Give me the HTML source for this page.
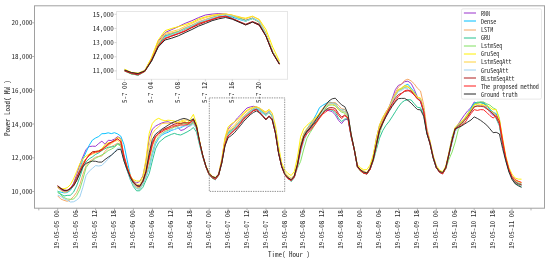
<!DOCTYPE html><html><head><meta charset="utf-8"><title>Power load forecast</title><style>
html,body{margin:0;padding:0;background:#fff;overflow:hidden}svg{display:block}
text{font-family:"Noto Sans Mono CJK SC","IPAGothic","Liberation Mono",monospace;fill:#2c2c2c}
</style></head><body>
<svg width="550" height="261" viewBox="0 0 550 261">
<rect width="550" height="261" fill="#fff"/>
<defs><clipPath id="cm"><rect x="34.5" y="5.8" width="510" height="202.4"/></clipPath><clipPath id="ci"><rect x="116.5" y="11.5" width="171" height="67.8"/></clipPath></defs>
<g fill="none" stroke-linejoin="round" stroke-width="0.95" clip-path="url(#cm)">
<polyline points="57.7,187.3 60.9,189.9 64.0,191.2 67.2,191.4 70.3,188.9 73.5,183.4 76.6,174.8 79.8,164.7 82.9,156.8 86.1,149.4 89.2,146.6 92.4,146.2 95.6,146.3 98.7,143.5 101.9,141.2 105.0,144.2 108.2,140.3 111.3,140.5 114.5,139.1 117.6,136.6 120.8,138.5 124.0,155.3 127.1,166.6 130.3,177.2 133.4,181.3 136.6,182.8 139.7,181.6 142.9,175.8 146.0,161.5 149.2,138.1 152.3,129.2 155.5,126.2 158.7,124.4 161.8,123.0 165.0,122.0 168.1,121.7 171.3,123.0 174.4,124.9 177.6,126.9 180.7,130.5 183.9,129.6 187.1,127.3 190.2,125.5 193.4,121.6 196.5,128.1 199.7,143.5 202.8,156.8 206.0,167.1 209.1,174.3 212.3,177.5 215.4,177.7 218.6,174.0 221.8,160.0 224.9,139.5 228.1,128.9 231.2,125.3 234.4,121.9 237.5,117.9 240.7,114.8 243.8,111.1 247.0,108.0 250.2,107.0 253.3,106.3 256.5,107.0 259.6,108.5 262.8,111.7 265.9,114.3 269.1,111.7 272.2,116.3 275.4,130.2 278.6,152.5 281.7,166.0 284.9,174.3 288.0,177.9 291.2,180.4 294.3,176.4 297.5,164.2 300.6,146.9 303.8,135.5 306.9,129.6 310.1,126.0 313.3,121.7 316.4,118.6 319.6,116.3 322.7,113.1 325.9,110.3 329.0,110.6 332.2,111.6 335.3,114.9 338.5,120.3 341.6,123.6 344.8,119.7 348.0,119.3 351.1,136.8 354.3,149.5 357.4,166.8 360.6,170.1 363.7,171.9 366.9,173.1 370.0,168.0 373.2,156.7 376.4,138.3 379.5,125.3 382.7,118.3 385.8,112.3 389.0,107.2 392.1,99.0 395.3,89.7 398.4,85.4 401.6,84.1 404.7,81.7 407.9,81.2 411.1,83.4 414.2,89.3 417.4,97.0 420.5,101.7 423.7,111.4 426.8,129.9 430.0,142.5 433.1,156.3 436.3,166.6 439.5,171.4 442.6,172.7 445.8,167.3 448.9,153.0 452.1,137.7 455.2,129.0 458.4,124.0 461.5,119.1 464.7,114.6 467.8,110.7 471.0,107.5 474.2,102.0 477.3,103.3 480.5,102.2 483.6,102.4 486.8,107.9 489.9,112.3 493.1,115.4 496.2,114.1 499.4,122.4 502.6,144.2 505.7,157.9 508.9,169.7 512.0,177.7 515.2,182.2 518.3,183.5 521.5,184.2" stroke="#9932CC"/>
<polyline points="57.7,191.5 60.9,192.1 64.0,192.9 67.2,192.6 70.3,190.4 73.5,185.4 76.6,179.5 79.8,169.3 82.9,159.0 86.1,152.0 89.2,145.3 92.4,140.1 95.6,138.0 98.7,136.5 101.9,133.7 105.0,133.6 108.2,132.8 111.3,133.6 114.5,132.7 117.6,133.9 120.8,136.2 124.0,144.5 127.1,159.8 130.3,175.4 133.4,181.5 136.6,185.3 139.7,187.8 142.9,183.7 146.0,177.1 149.2,167.9 152.3,154.8 155.5,144.0 158.7,138.7 161.8,135.2 165.0,133.4 168.1,132.3 171.3,130.5 174.4,129.4 177.6,128.3 180.7,127.7 183.9,126.1 187.1,125.1 190.2,124.6 193.4,120.4 196.5,128.0 199.7,143.1 202.8,155.9 206.0,166.5 209.1,174.4 212.3,177.8 215.4,179.7 218.6,175.1 221.8,162.5 224.9,143.5 228.1,132.8 231.2,130.3 234.4,128.2 237.5,123.9 240.7,121.0 243.8,116.8 247.0,114.6 250.2,111.3 253.3,109.7 256.5,109.0 259.6,110.5 262.8,113.2 265.9,115.4 269.1,111.7 272.2,115.9 275.4,130.2 278.6,152.5 281.7,166.3 284.9,174.3 288.0,178.3 291.2,180.2 294.3,177.4 297.5,163.2 300.6,144.9 303.8,133.8 306.9,128.9 310.1,124.2 313.3,119.9 316.4,114.2 319.6,107.5 322.7,105.3 325.9,103.5 329.0,101.9 332.2,102.8 335.3,103.4 338.5,108.0 341.6,110.1 344.8,109.4 348.0,115.3 351.1,134.5 354.3,149.4 357.4,166.3 360.6,170.4 363.7,172.6 366.9,174.0 370.0,169.3 373.2,158.6 376.4,141.4 379.5,127.6 382.7,120.9 385.8,114.9 389.0,109.2 392.1,100.0 395.3,94.8 398.4,89.9 401.6,88.5 404.7,85.7 407.9,84.2 411.1,88.1 414.2,91.9 417.4,97.1 420.5,101.6 423.7,112.5 426.8,132.8 430.0,142.7 433.1,157.8 436.3,167.6 439.5,172.3 442.6,173.8 445.8,168.6 448.9,154.2 452.1,137.3 455.2,127.9 458.4,125.4 461.5,121.7 464.7,119.0 467.8,113.6 471.0,108.2 474.2,103.1 477.3,102.3 480.5,102.4 483.6,103.2 486.8,104.9 489.9,109.7 493.1,112.3 496.2,113.6 499.4,123.8 502.6,142.8 505.7,158.4 508.9,170.5 512.0,177.7 515.2,181.9 518.3,183.4 521.5,185.2" stroke="#00BFFF"/>
<polyline points="57.7,195.9 60.9,199.1 64.0,200.3 67.2,201.3 70.3,199.7 73.5,196.6 76.6,192.3 79.8,184.7 82.9,174.3 86.1,165.6 89.2,161.6 92.4,159.4 95.6,157.2 98.7,156.4 101.9,156.0 105.0,151.4 108.2,148.1 111.3,146.6 114.5,144.9 117.6,143.2 120.8,144.5 124.0,158.5 127.1,169.4 130.3,178.0 133.4,184.0 136.6,187.3 139.7,187.8 142.9,183.6 146.0,174.9 149.2,160.1 152.3,146.4 155.5,138.0 158.7,134.7 161.8,131.7 165.0,129.0 168.1,128.1 171.3,125.9 174.4,125.4 177.6,124.7 180.7,123.9 183.9,122.1 187.1,122.9 190.2,123.9 193.4,121.3 196.5,127.0 199.7,142.7 202.8,156.2 206.0,166.6 209.1,174.7 212.3,177.7 215.4,179.5 218.6,175.2 221.8,161.8 224.9,143.0 228.1,131.4 231.2,129.4 234.4,127.3 237.5,123.1 240.7,120.0 243.8,116.0 247.0,113.3 250.2,110.5 253.3,108.7 256.5,107.4 259.6,109.0 262.8,111.3 265.9,114.6 269.1,111.9 272.2,116.8 275.4,131.3 278.6,151.8 281.7,165.5 284.9,173.9 288.0,177.6 291.2,180.6 294.3,176.7 297.5,164.8 300.6,147.2 303.8,135.9 306.9,130.5 310.1,126.9 313.3,121.2 316.4,118.0 319.6,113.1 322.7,108.6 325.9,104.7 329.0,102.6 332.2,102.8 335.3,102.6 338.5,105.3 341.6,108.8 344.8,109.3 348.0,115.4 351.1,134.5 354.3,149.5 357.4,166.6 360.6,170.8 363.7,172.2 366.9,173.9 370.0,169.3 373.2,160.4 376.4,144.7 379.5,128.8 382.7,121.4 385.8,114.7 389.0,108.7 392.1,100.3 395.3,92.9 398.4,87.1 401.6,84.0 404.7,80.4 407.9,79.2 411.1,80.9 414.2,83.8 417.4,88.2 420.5,91.0 423.7,104.8 426.8,127.7 430.0,141.4 433.1,156.1 436.3,166.9 439.5,171.7 442.6,173.8 445.8,168.6 448.9,154.6 452.1,139.8 455.2,128.6 458.4,125.9 461.5,123.2 464.7,120.3 467.8,115.5 471.0,111.8 474.2,107.1 477.3,105.9 480.5,105.4 483.6,106.2 486.8,107.9 489.9,111.5 493.1,111.8 496.2,115.3 499.4,124.2 502.6,142.8 505.7,158.7 508.9,170.8 512.0,177.7 515.2,183.4 518.3,184.3 521.5,185.1" stroke="#F4A460"/>
<polyline points="57.7,192.6 60.9,194.1 64.0,196.0 67.2,195.4 70.3,195.3 73.5,192.2 76.6,185.9 79.8,177.5 82.9,167.7 86.1,161.7 89.2,158.9 92.4,156.9 95.6,154.4 98.7,152.9 101.9,150.5 105.0,148.7 108.2,147.2 111.3,147.0 114.5,146.4 117.6,144.0 120.8,144.5 124.0,159.4 127.1,169.9 130.3,179.6 133.4,186.6 136.6,190.8 139.7,190.8 142.9,187.3 146.0,180.2 149.2,173.6 152.3,161.0 155.5,148.8 158.7,142.6 161.8,140.0 165.0,137.3 168.1,135.8 171.3,134.4 174.4,133.4 177.6,134.5 180.7,135.0 183.9,133.5 187.1,131.9 190.2,130.1 193.4,127.5 196.5,132.1 199.7,145.5 202.8,156.9 206.0,167.0 209.1,174.7 212.3,178.2 215.4,179.5 218.6,175.0 221.8,162.0 224.9,144.1 228.1,133.6 231.2,131.9 234.4,128.4 237.5,124.8 240.7,121.7 243.8,117.3 247.0,114.5 250.2,111.6 253.3,109.6 256.5,107.6 259.6,109.5 262.8,112.1 265.9,114.7 269.1,112.2 272.2,116.1 275.4,130.7 278.6,151.9 281.7,166.2 284.9,174.0 288.0,178.2 291.2,181.5 294.3,177.7 297.5,165.5 300.6,148.8 303.8,137.0 306.9,131.9 310.1,128.0 313.3,123.1 316.4,120.9 319.6,116.3 322.7,113.3 325.9,109.7 329.0,109.1 332.2,110.3 335.3,112.5 338.5,118.2 341.6,121.5 344.8,119.0 348.0,118.6 351.1,136.6 354.3,148.8 357.4,166.3 360.6,170.8 363.7,172.7 366.9,173.8 370.0,169.2 373.2,161.4 376.4,149.5 379.5,138.2 382.7,130.7 385.8,125.5 389.0,121.6 392.1,116.9 395.3,111.8 398.4,106.9 401.6,102.7 404.7,100.5 407.9,99.7 411.1,99.9 414.2,103.6 417.4,107.3 420.5,107.8 423.7,114.8 426.8,133.6 430.0,143.3 433.1,158.0 436.3,168.1 439.5,171.7 442.6,173.0 445.8,168.2 448.9,154.8 452.1,140.1 455.2,128.4 458.4,126.0 461.5,122.2 464.7,118.5 467.8,114.3 471.0,109.8 474.2,104.1 477.3,102.8 480.5,102.7 483.6,103.5 486.8,105.9 489.9,109.4 493.1,112.5 496.2,118.7 499.4,125.9 502.6,144.1 505.7,160.1 508.9,170.9 512.0,178.2 515.2,183.4 518.3,184.9 521.5,186.9" stroke="#26C28E"/>
<polyline points="57.7,190.7 60.9,195.1 64.0,197.6 67.2,199.0 70.3,199.3 73.5,199.1 76.6,195.7 79.8,189.4 82.9,179.1 86.1,167.5 89.2,163.3 92.4,160.5 95.6,158.2 98.7,156.6 101.9,154.9 105.0,153.2 108.2,150.5 111.3,149.2 114.5,147.4 117.6,144.2 120.8,146.3 124.0,160.6 127.1,169.4 130.3,178.7 133.4,185.3 136.6,188.3 139.7,189.2 142.9,184.4 146.0,176.5 149.2,165.9 152.3,152.1 155.5,141.7 158.7,136.7 161.8,133.6 165.0,131.4 168.1,130.4 171.3,128.7 174.4,127.2 177.6,126.6 180.7,124.6 183.9,123.4 187.1,123.7 190.2,125.3 193.4,122.6 196.5,128.8 199.7,143.7 202.8,155.6 206.0,167.3 209.1,174.2 212.3,178.3 215.4,179.6 218.6,175.5 221.8,163.2 224.9,146.3 228.1,134.4 231.2,130.5 234.4,127.8 237.5,124.4 240.7,120.6 243.8,117.1 247.0,114.6 250.2,111.3 253.3,108.7 256.5,107.8 259.6,109.4 262.8,111.8 265.9,115.3 269.1,112.4 272.2,116.2 275.4,130.5 278.6,152.7 281.7,165.4 284.9,173.9 288.0,177.9 291.2,180.5 294.3,176.8 297.5,168.0 300.6,161.4 303.8,149.0 306.9,138.4 310.1,132.6 313.3,127.6 316.4,122.0 319.6,117.5 322.7,112.8 325.9,107.9 329.0,105.2 332.2,104.9 335.3,105.8 338.5,109.7 341.6,112.1 344.8,113.2 348.0,116.9 351.1,135.5 354.3,150.1 357.4,167.3 360.6,171.3 363.7,173.2 366.9,173.6 370.0,169.5 373.2,160.0 376.4,147.6 379.5,133.9 382.7,123.7 385.8,116.3 389.0,109.1 392.1,102.3 395.3,96.3 398.4,90.5 401.6,89.3 404.7,87.4 407.9,86.9 411.1,90.1 414.2,93.4 417.4,97.9 420.5,99.3 423.7,109.4 426.8,131.0 430.0,142.4 433.1,156.3 436.3,166.9 439.5,171.9 442.6,173.1 445.8,168.9 448.9,159.4 452.1,152.0 455.2,142.1 458.4,129.2 461.5,125.6 464.7,120.2 467.8,115.7 471.0,110.9 474.2,104.4 477.3,102.4 480.5,101.9 483.6,102.0 486.8,103.8 489.9,105.1 493.1,107.9 496.2,109.5 499.4,118.5 502.6,140.8 505.7,158.1 508.9,169.8 512.0,177.8 515.2,181.3 518.3,182.7 521.5,184.2" stroke="#80E060"/>
<polyline points="57.7,187.1 60.9,188.4 64.0,188.8 67.2,187.7 70.3,184.8 73.5,179.0 76.6,171.6 79.8,163.7 82.9,158.8 86.1,156.0 89.2,154.0 92.4,152.1 95.6,151.6 98.7,150.8 101.9,148.5 105.0,144.6 108.2,142.8 111.3,142.5 114.5,140.2 117.6,137.4 120.8,139.1 124.0,156.7 127.1,166.3 130.3,176.4 133.4,179.6 136.6,181.0 139.7,181.1 142.9,176.5 146.0,159.1 149.2,133.4 152.3,123.5 155.5,119.8 158.7,118.3 161.8,119.9 165.0,120.8 168.1,120.2 171.3,120.5 174.4,121.1 177.6,122.7 180.7,122.2 183.9,120.9 187.1,123.0 190.2,119.5 193.4,114.4 196.5,123.8 199.7,141.4 202.8,155.4 206.0,165.9 209.1,172.6 212.3,176.3 215.4,177.4 218.6,174.1 221.8,158.8 224.9,138.0 228.1,126.8 231.2,123.9 234.4,121.9 237.5,119.5 240.7,116.8 243.8,112.6 247.0,110.2 250.2,108.3 253.3,107.2 256.5,106.9 259.6,108.0 262.8,111.0 265.9,111.7 269.1,109.4 272.2,113.2 275.4,125.1 278.6,146.1 281.7,162.8 284.9,170.3 288.0,173.5 291.2,175.5 294.3,171.4 297.5,156.8 300.6,136.7 303.8,128.7 306.9,125.3 310.1,122.5 313.3,119.4 316.4,116.9 319.6,113.2 322.7,109.5 325.9,106.0 329.0,104.2 332.2,103.7 335.3,105.6 338.5,109.5 341.6,110.8 344.8,111.9 348.0,116.5 351.1,134.4 354.3,149.1 357.4,164.9 360.6,167.8 363.7,169.8 366.9,169.5 370.0,165.2 373.2,154.8 376.4,138.4 379.5,125.0 382.7,117.4 385.8,112.3 389.0,107.4 392.1,100.4 395.3,94.7 398.4,89.8 401.6,87.7 404.7,85.5 407.9,86.4 411.1,89.5 414.2,92.7 417.4,97.5 420.5,98.2 423.7,108.5 426.8,130.4 430.0,141.0 433.1,155.2 436.3,165.6 439.5,170.0 442.6,171.9 445.8,165.9 448.9,152.7 452.1,137.4 455.2,127.2 458.4,124.1 461.5,121.3 464.7,118.1 467.8,113.5 471.0,109.6 474.2,105.0 477.3,104.2 480.5,104.2 483.6,104.9 486.8,105.7 489.9,107.4 493.1,109.7 496.2,109.7 499.4,119.3 502.6,138.0 505.7,155.3 508.9,167.5 512.0,174.1 515.2,178.1 518.3,179.1 521.5,179.2" stroke="#FFF000"/>
<polyline points="57.7,187.2 60.9,190.4 64.0,192.3 67.2,191.9 70.3,189.3 73.5,184.5 76.6,177.5 79.8,169.2 82.9,162.2 86.1,158.6 89.2,155.7 92.4,154.1 95.6,152.8 98.7,151.1 101.9,150.3 105.0,147.5 108.2,145.6 111.3,143.8 114.5,141.3 117.6,140.5 120.8,142.9 124.0,158.3 127.1,167.3 130.3,175.1 133.4,181.1 136.6,184.1 139.7,184.7 142.9,178.7 146.0,166.6 149.2,145.4 152.3,133.6 155.5,129.3 158.7,126.8 161.8,123.6 165.0,123.2 168.1,123.3 171.3,122.7 174.4,122.6 177.6,122.4 180.7,121.0 183.9,119.9 187.1,120.2 190.2,121.3 193.4,118.7 196.5,126.6 199.7,141.8 202.8,156.1 206.0,167.0 209.1,174.6 212.3,176.8 215.4,178.9 218.6,175.1 221.8,161.4 224.9,141.4 228.1,129.9 231.2,127.7 234.4,125.5 237.5,121.4 240.7,117.9 243.8,114.1 247.0,111.1 250.2,109.0 253.3,107.8 256.5,106.7 259.6,108.4 262.8,109.9 265.9,112.7 269.1,109.6 272.2,113.6 275.4,129.0 278.6,151.3 281.7,164.5 284.9,172.4 288.0,176.0 291.2,178.2 294.3,175.1 297.5,161.6 300.6,143.5 303.8,133.2 306.9,128.4 310.1,125.4 313.3,121.3 316.4,117.9 319.6,114.8 322.7,110.2 325.9,106.4 329.0,104.4 332.2,103.6 335.3,104.1 338.5,108.0 341.6,110.8 344.8,111.5 348.0,116.0 351.1,134.1 354.3,149.3 357.4,165.5 360.6,169.5 363.7,170.9 366.9,172.5 370.0,167.7 373.2,157.7 376.4,142.3 379.5,128.2 382.7,120.4 385.8,113.2 389.0,107.0 392.1,101.4 395.3,95.1 398.4,89.8 401.6,88.5 404.7,86.2 407.9,86.7 411.1,89.5 414.2,93.8 417.4,97.0 420.5,98.2 423.7,109.0 426.8,131.3 430.0,142.0 433.1,156.7 436.3,166.1 439.5,171.3 442.6,172.8 445.8,167.3 448.9,153.8 452.1,140.3 455.2,129.1 458.4,126.2 461.5,122.5 464.7,119.3 467.8,114.8 471.0,111.1 474.2,106.8 477.3,106.3 480.5,106.1 483.6,106.9 486.8,108.6 489.9,111.4 493.1,112.6 496.2,115.8 499.4,123.7 502.6,142.3 505.7,157.3 508.9,169.3 512.0,176.5 515.2,180.7 518.3,181.4 521.5,182.8" stroke="#FFD23C"/>
<polyline points="57.7,195.1 60.9,196.5 64.0,198.7 67.2,200.1 70.3,202.0 73.5,201.8 76.6,200.2 79.8,197.0 82.9,187.2 86.1,175.3 89.2,171.2 92.4,168.4 95.6,165.6 98.7,166.0 101.9,165.4 105.0,162.2 108.2,159.1 111.3,155.3 114.5,151.9 117.6,148.3 120.8,147.9 124.0,160.7 127.1,170.3 130.3,179.3 133.4,185.0 136.6,188.7 139.7,189.3 142.9,184.1 146.0,176.8 149.2,167.8 152.3,154.6 155.5,142.9 158.7,138.3 161.8,134.5 165.0,132.3 168.1,131.2 171.3,129.6 174.4,129.5 177.6,128.1 180.7,127.0 183.9,125.5 187.1,125.9 190.2,126.1 193.4,124.2 196.5,129.3 199.7,144.1 202.8,155.5 206.0,167.3 209.1,174.4 212.3,177.7 215.4,179.6 218.6,175.1 221.8,163.4 224.9,145.9 228.1,134.3 231.2,131.6 234.4,128.7 237.5,124.1 240.7,121.0 243.8,116.6 247.0,114.2 250.2,111.6 253.3,109.2 256.5,108.1 259.6,109.2 262.8,112.6 265.9,115.3 269.1,112.2 272.2,115.6 275.4,130.8 278.6,151.8 281.7,165.9 284.9,174.3 288.0,178.7 291.2,180.9 294.3,177.3 297.5,167.3 300.6,153.0 303.8,141.5 306.9,133.9 310.1,129.9 313.3,125.0 316.4,120.5 319.6,115.5 322.7,111.0 325.9,106.3 329.0,104.0 332.2,103.3 335.3,104.5 338.5,108.5 341.6,110.7 344.8,111.5 348.0,115.9 351.1,134.6 354.3,149.3 357.4,166.7 360.6,171.0 363.7,172.6 366.9,173.6 370.0,169.4 373.2,160.4 376.4,147.0 379.5,131.7 382.7,123.0 385.8,116.0 389.0,109.0 392.1,102.3 395.3,96.0 398.4,91.6 401.6,90.5 404.7,88.2 407.9,88.4 411.1,91.7 414.2,94.9 417.4,98.5 420.5,99.6 423.7,109.8 426.8,130.9 430.0,142.7 433.1,156.6 436.3,166.9 439.5,172.1 442.6,173.1 445.8,168.4 448.9,155.7 452.1,143.6 455.2,131.9 458.4,126.3 461.5,124.0 464.7,119.9 467.8,116.8 471.0,112.3 474.2,106.3 477.3,105.5 480.5,106.1 483.6,107.0 486.8,108.7 489.9,111.7 493.1,113.6 496.2,118.0 499.4,125.0 502.6,143.3 505.7,158.7 508.9,170.4 512.0,177.6 515.2,182.1 518.3,183.4 521.5,185.3" stroke="#9ACFF0"/>
<polyline points="57.7,185.8 60.9,188.2 64.0,190.4 67.2,190.6 70.3,188.3 73.5,184.3 76.6,177.6 79.8,170.6 82.9,164.4 86.1,159.0 89.2,154.9 92.4,151.7 95.6,151.4 98.7,151.0 101.9,149.3 105.0,146.6 108.2,143.7 111.3,142.1 114.5,140.4 117.6,138.8 120.8,141.5 124.0,157.5 127.1,167.8 130.3,176.3 133.4,181.8 136.6,185.3 139.7,186.4 142.9,181.2 146.0,171.6 149.2,156.0 152.3,142.7 155.5,136.3 158.7,133.1 161.8,130.4 165.0,128.6 168.1,127.4 171.3,125.7 174.4,124.1 177.6,123.3 180.7,123.5 183.9,122.7 187.1,122.9 190.2,122.5 193.4,119.6 196.5,126.7 199.7,142.4 202.8,156.0 206.0,167.2 209.1,174.6 212.3,177.7 215.4,179.4 218.6,175.1 221.8,162.0 224.9,144.7 228.1,136.0 231.2,133.2 234.4,130.3 237.5,127.3 240.7,123.1 243.8,119.4 247.0,116.4 250.2,113.4 253.3,110.7 256.5,109.3 259.6,112.0 262.8,115.6 265.9,119.0 269.1,115.8 272.2,118.9 275.4,133.0 278.6,153.1 281.7,166.9 284.9,175.2 288.0,178.1 291.2,180.6 294.3,176.7 297.5,165.1 300.6,147.8 303.8,136.8 306.9,132.3 310.1,128.8 313.3,124.8 316.4,121.4 319.6,117.2 322.7,113.4 325.9,109.5 329.0,107.8 332.2,107.5 335.3,108.5 338.5,113.5 341.6,117.1 344.8,115.0 348.0,118.1 351.1,135.4 354.3,150.2 357.4,167.3 360.6,170.8 363.7,173.1 366.9,174.2 370.0,169.5 373.2,159.8 376.4,144.4 379.5,130.1 382.7,122.2 385.8,115.6 389.0,109.0 392.1,103.7 395.3,98.3 398.4,94.6 401.6,93.2 404.7,91.4 407.9,90.8 411.1,90.8 414.2,95.0 417.4,98.8 420.5,101.1 423.7,111.3 426.8,132.7 430.0,142.9 433.1,157.1 436.3,167.6 439.5,172.4 442.6,173.7 445.8,168.1 448.9,154.8 452.1,140.5 455.2,128.8 458.4,126.1 461.5,123.5 464.7,120.0 467.8,116.4 471.0,111.5 474.2,106.8 477.3,106.0 480.5,106.3 483.6,106.3 486.8,108.9 489.9,111.0 493.1,114.0 496.2,117.5 499.4,124.0 502.6,142.9 505.7,158.6 508.9,169.7 512.0,177.7 515.2,181.9 518.3,183.8 521.5,184.9" stroke="#B01E1E"/>
<polyline points="57.7,185.8 60.9,188.9 64.0,190.2 67.2,190.4 70.3,188.2 73.5,186.0 76.6,180.6 79.8,172.4 82.9,165.9 86.1,159.2 89.2,155.4 92.4,153.1 95.6,152.1 98.7,151.8 101.9,150.2 105.0,147.4 108.2,144.6 111.3,142.5 114.5,140.9 117.6,138.8 120.8,141.5 124.0,156.6 127.1,167.6 130.3,176.1 133.4,182.1 136.6,185.9 139.7,186.2 142.9,181.4 146.0,172.2 149.2,157.9 152.3,144.7 155.5,136.8 158.7,133.5 161.8,131.8 165.0,129.9 168.1,128.9 171.3,127.3 174.4,126.4 177.6,125.3 180.7,125.0 183.9,125.0 187.1,124.7 190.2,122.5 193.4,119.5 196.5,127.1 199.7,142.5 202.8,155.6 206.0,166.5 209.1,174.0 212.3,176.8 215.4,178.3 218.6,175.2 221.8,162.7 224.9,145.4 228.1,135.9 231.2,133.1 234.4,130.0 237.5,126.6 240.7,122.7 243.8,118.2 247.0,115.7 250.2,113.1 253.3,110.6 256.5,109.7 259.6,112.5 262.8,116.1 265.9,119.8 269.1,116.4 272.2,120.2 275.4,133.1 278.6,153.4 281.7,166.5 284.9,174.7 288.0,178.8 291.2,180.1 294.3,177.3 297.5,165.2 300.6,150.1 303.8,138.7 306.9,133.8 310.1,130.6 313.3,126.7 316.4,122.8 319.6,118.1 322.7,114.2 325.9,111.8 329.0,109.5 332.2,109.2 335.3,110.6 338.5,115.4 341.6,118.6 344.8,115.6 348.0,118.4 351.1,135.8 354.3,149.7 357.4,166.1 360.6,170.9 363.7,173.1 366.9,173.3 370.0,169.5 373.2,160.0 376.4,145.2 379.5,130.4 382.7,123.2 385.8,116.3 389.0,110.0 392.1,105.5 395.3,100.9 398.4,96.3 401.6,93.7 404.7,90.6 407.9,90.0 411.1,92.3 414.2,94.8 417.4,98.8 420.5,101.0 423.7,111.3 426.8,131.4 430.0,144.0 433.1,157.5 436.3,167.6 439.5,172.0 442.6,173.8 445.8,167.8 448.9,154.3 452.1,140.8 455.2,128.5 458.4,127.3 461.5,125.1 464.7,123.1 467.8,118.1 471.0,113.6 474.2,109.6 477.3,110.4 480.5,109.6 483.6,109.8 486.8,112.5 489.9,115.6 493.1,118.0 496.2,115.6 499.4,121.0 502.6,139.9 505.7,157.1 508.9,169.7 512.0,176.3 515.2,179.6 518.3,181.3 521.5,182.4" stroke="#FF1A1A"/>
<polyline points="57.7,186.2 60.9,188.7 64.0,190.4 67.2,190.4 70.3,188.9 73.5,185.9 76.6,180.7 79.8,173.7 82.9,166.4 86.1,163.4 89.2,162.1 92.4,161.1 95.6,161.3 98.7,162.1 101.9,162.1 105.0,159.5 108.2,157.2 111.3,155.2 114.5,152.4 117.6,149.7 120.8,149.2 124.0,161.1 127.1,169.7 130.3,177.6 133.4,182.8 136.6,185.7 139.7,186.2 142.9,181.1 146.0,171.4 149.2,152.9 152.3,139.6 155.5,134.2 158.7,131.7 161.8,129.2 165.0,127.2 168.1,125.2 171.3,123.2 174.4,121.8 177.6,120.6 180.7,119.3 183.9,118.4 187.1,119.2 190.2,120.8 193.4,118.8 196.5,126.2 199.7,142.1 202.8,155.7 206.0,166.4 209.1,173.6 212.3,176.5 215.4,177.7 218.6,174.7 221.8,162.8 224.9,146.1 228.1,137.8 231.2,135.6 234.4,132.8 237.5,129.0 240.7,125.3 243.8,121.2 247.0,118.1 250.2,114.8 253.3,112.5 256.5,111.0 259.6,113.0 262.8,116.4 265.9,119.8 269.1,116.4 272.2,119.8 275.4,133.0 278.6,153.3 281.7,166.4 284.9,174.3 288.0,177.7 291.2,179.6 294.3,175.9 297.5,164.2 300.6,147.2 303.8,136.3 306.9,131.1 310.1,127.9 313.3,123.6 316.4,119.1 319.6,114.2 322.7,109.5 325.9,104.8 329.0,100.9 332.2,98.8 335.3,98.2 338.5,101.8 341.6,104.9 344.8,106.7 348.0,113.9 351.1,134.1 354.3,149.4 357.4,166.3 360.6,170.0 363.7,172.0 366.9,173.0 370.0,168.4 373.2,159.5 376.4,144.7 379.5,130.3 382.7,123.4 385.8,117.1 389.0,111.5 392.1,106.5 395.3,102.0 398.4,98.6 401.6,98.4 404.7,98.4 407.9,100.4 411.1,103.0 414.2,106.3 417.4,109.5 420.5,109.8 423.7,116.3 426.8,133.3 430.0,143.6 433.1,157.5 436.3,167.4 439.5,171.4 442.6,172.5 445.8,167.4 448.9,154.3 452.1,140.0 455.2,128.9 458.4,127.5 461.5,126.0 464.7,124.0 467.8,122.0 471.0,120.0 474.2,116.9 477.3,118.4 480.5,120.3 483.6,122.6 486.8,125.2 489.9,128.8 493.1,132.7 496.2,132.3 499.4,133.9 502.6,148.5 505.7,160.6 508.9,172.0 512.0,179.5 515.2,183.8 518.3,185.8 521.5,187.3" stroke="#262626" stroke-width="0.9"/>
</g>
<rect x="209.3" y="97.9" width="75.4" height="93.5" fill="none" stroke="#777" stroke-width="0.8" stroke-dasharray="1.4,1"/>
<rect x="34.5" y="5.8" width="510.0" height="202.39999999999998" fill="none" stroke="#a0a0a0" stroke-width="1"/>
<line x1="32.3" y1="191.5" x2="34.5" y2="191.5" stroke="#a0a0a0" stroke-width="0.8"/>
<text x="32.4" y="194.0" font-size="7" text-anchor="end">10,000</text>
<line x1="32.3" y1="157.8" x2="34.5" y2="157.8" stroke="#a0a0a0" stroke-width="0.8"/>
<text x="32.4" y="160.3" font-size="7" text-anchor="end">12,000</text>
<line x1="32.3" y1="124.0" x2="34.5" y2="124.0" stroke="#a0a0a0" stroke-width="0.8"/>
<text x="32.4" y="126.5" font-size="7" text-anchor="end">14,000</text>
<line x1="32.3" y1="90.3" x2="34.5" y2="90.3" stroke="#a0a0a0" stroke-width="0.8"/>
<text x="32.4" y="92.8" font-size="7" text-anchor="end">16,000</text>
<line x1="32.3" y1="56.5" x2="34.5" y2="56.5" stroke="#a0a0a0" stroke-width="0.8"/>
<text x="32.4" y="59.0" font-size="7" text-anchor="end">18,000</text>
<line x1="32.3" y1="22.8" x2="34.5" y2="22.8" stroke="#a0a0a0" stroke-width="0.8"/>
<text x="32.4" y="25.3" font-size="7" text-anchor="end">20,000</text>
<line x1="38.8" y1="208.2" x2="38.8" y2="210.39999999999998" stroke="#a0a0a0" stroke-width="0.8"/>
<line x1="57.7" y1="208.2" x2="57.7" y2="210.39999999999998" stroke="#a0a0a0" stroke-width="0.8"/>
<text transform="translate(59.3,210.3) rotate(-90)" font-size="7" text-anchor="end">19-05-05 00</text>
<line x1="76.7" y1="208.2" x2="76.7" y2="210.39999999999998" stroke="#a0a0a0" stroke-width="0.8"/>
<text transform="translate(78.3,210.3) rotate(-90)" font-size="7" text-anchor="end">19-05-05 06</text>
<line x1="95.6" y1="208.2" x2="95.6" y2="210.39999999999998" stroke="#a0a0a0" stroke-width="0.8"/>
<text transform="translate(97.2,210.3) rotate(-90)" font-size="7" text-anchor="end">19-05-05 12</text>
<line x1="114.5" y1="208.2" x2="114.5" y2="210.39999999999998" stroke="#a0a0a0" stroke-width="0.8"/>
<text transform="translate(116.1,210.3) rotate(-90)" font-size="7" text-anchor="end">19-05-05 18</text>
<line x1="133.4" y1="208.2" x2="133.4" y2="210.39999999999998" stroke="#a0a0a0" stroke-width="0.8"/>
<text transform="translate(135.0,210.3) rotate(-90)" font-size="7" text-anchor="end">19-05-06 00</text>
<line x1="152.4" y1="208.2" x2="152.4" y2="210.39999999999998" stroke="#a0a0a0" stroke-width="0.8"/>
<text transform="translate(154.0,210.3) rotate(-90)" font-size="7" text-anchor="end">19-05-06 06</text>
<line x1="171.3" y1="208.2" x2="171.3" y2="210.39999999999998" stroke="#a0a0a0" stroke-width="0.8"/>
<text transform="translate(172.9,210.3) rotate(-90)" font-size="7" text-anchor="end">19-05-06 12</text>
<line x1="190.2" y1="208.2" x2="190.2" y2="210.39999999999998" stroke="#a0a0a0" stroke-width="0.8"/>
<text transform="translate(191.8,210.3) rotate(-90)" font-size="7" text-anchor="end">19-05-06 18</text>
<line x1="209.2" y1="208.2" x2="209.2" y2="210.39999999999998" stroke="#a0a0a0" stroke-width="0.8"/>
<text transform="translate(210.8,210.3) rotate(-90)" font-size="7" text-anchor="end">19-05-07 00</text>
<line x1="228.1" y1="208.2" x2="228.1" y2="210.39999999999998" stroke="#a0a0a0" stroke-width="0.8"/>
<text transform="translate(229.7,210.3) rotate(-90)" font-size="7" text-anchor="end">19-05-07 06</text>
<line x1="247.0" y1="208.2" x2="247.0" y2="210.39999999999998" stroke="#a0a0a0" stroke-width="0.8"/>
<text transform="translate(248.6,210.3) rotate(-90)" font-size="7" text-anchor="end">19-05-07 12</text>
<line x1="266.0" y1="208.2" x2="266.0" y2="210.39999999999998" stroke="#a0a0a0" stroke-width="0.8"/>
<text transform="translate(267.6,210.3) rotate(-90)" font-size="7" text-anchor="end">19-05-07 18</text>
<line x1="284.9" y1="208.2" x2="284.9" y2="210.39999999999998" stroke="#a0a0a0" stroke-width="0.8"/>
<text transform="translate(286.5,210.3) rotate(-90)" font-size="7" text-anchor="end">19-05-08 00</text>
<line x1="303.8" y1="208.2" x2="303.8" y2="210.39999999999998" stroke="#a0a0a0" stroke-width="0.8"/>
<text transform="translate(305.4,210.3) rotate(-90)" font-size="7" text-anchor="end">19-05-08 06</text>
<line x1="322.8" y1="208.2" x2="322.8" y2="210.39999999999998" stroke="#a0a0a0" stroke-width="0.8"/>
<text transform="translate(324.4,210.3) rotate(-90)" font-size="7" text-anchor="end">19-05-08 12</text>
<line x1="341.7" y1="208.2" x2="341.7" y2="210.39999999999998" stroke="#a0a0a0" stroke-width="0.8"/>
<text transform="translate(343.3,210.3) rotate(-90)" font-size="7" text-anchor="end">19-05-08 18</text>
<line x1="360.6" y1="208.2" x2="360.6" y2="210.39999999999998" stroke="#a0a0a0" stroke-width="0.8"/>
<text transform="translate(362.2,210.3) rotate(-90)" font-size="7" text-anchor="end">19-05-09 00</text>
<line x1="379.5" y1="208.2" x2="379.5" y2="210.39999999999998" stroke="#a0a0a0" stroke-width="0.8"/>
<text transform="translate(381.1,210.3) rotate(-90)" font-size="7" text-anchor="end">19-05-09 06</text>
<line x1="398.5" y1="208.2" x2="398.5" y2="210.39999999999998" stroke="#a0a0a0" stroke-width="0.8"/>
<text transform="translate(400.1,210.3) rotate(-90)" font-size="7" text-anchor="end">19-05-09 12</text>
<line x1="417.4" y1="208.2" x2="417.4" y2="210.39999999999998" stroke="#a0a0a0" stroke-width="0.8"/>
<text transform="translate(419.0,210.3) rotate(-90)" font-size="7" text-anchor="end">19-05-09 18</text>
<line x1="436.3" y1="208.2" x2="436.3" y2="210.39999999999998" stroke="#a0a0a0" stroke-width="0.8"/>
<text transform="translate(437.9,210.3) rotate(-90)" font-size="7" text-anchor="end">19-05-10 00</text>
<line x1="455.3" y1="208.2" x2="455.3" y2="210.39999999999998" stroke="#a0a0a0" stroke-width="0.8"/>
<text transform="translate(456.9,210.3) rotate(-90)" font-size="7" text-anchor="end">19-05-10 06</text>
<line x1="474.2" y1="208.2" x2="474.2" y2="210.39999999999998" stroke="#a0a0a0" stroke-width="0.8"/>
<text transform="translate(475.8,210.3) rotate(-90)" font-size="7" text-anchor="end">19-05-10 12</text>
<line x1="493.1" y1="208.2" x2="493.1" y2="210.39999999999998" stroke="#a0a0a0" stroke-width="0.8"/>
<text transform="translate(494.7,210.3) rotate(-90)" font-size="7" text-anchor="end">19-05-10 18</text>
<line x1="512.0" y1="208.2" x2="512.0" y2="210.39999999999998" stroke="#a0a0a0" stroke-width="0.8"/>
<text transform="translate(513.6,210.3) rotate(-90)" font-size="7" text-anchor="end">19-05-11 00</text>
<line x1="531.0" y1="208.2" x2="531.0" y2="210.39999999999998" stroke="#a0a0a0" stroke-width="0.8"/>
<text x="289" y="256.6" font-size="7" text-anchor="middle">Time( Hour )</text>
<text transform="translate(9.6,108) rotate(-90)" font-size="7" text-anchor="middle">Power Load( MW )</text>
<rect x="116.5" y="11.5" width="171.0" height="67.8" fill="#fff" stroke="#e6e6e6" stroke-width="1"/>
<g fill="none" stroke-linejoin="round" stroke-width="1" clip-path="url(#ci)">
<polyline points="124.6,70.6 131.3,73.3 138.1,73.5 144.8,70.4 151.5,58.7 158.2,41.4 165.0,32.6 171.7,29.6 178.4,26.6 185.2,23.3 191.9,20.7 198.6,17.6 205.4,15.0 212.1,14.1 218.8,13.6 225.6,14.2 232.3,15.4 239.0,18.1 245.7,20.3 252.5,18.1 259.2,22.0 265.9,33.7 272.7,52.3 279.4,63.6" stroke="#9932CC"/>
<polyline points="124.6,70.7 131.3,73.6 138.1,75.1 144.8,71.3 151.5,60.7 158.2,44.8 165.0,35.8 171.7,33.7 178.4,32.0 185.2,28.3 191.9,25.9 198.6,22.4 205.4,20.5 212.1,17.8 218.8,16.4 225.6,15.9 232.3,17.1 239.0,19.4 245.7,21.2 252.5,18.2 259.2,21.6 265.9,33.7 272.7,52.4 279.4,63.9" stroke="#00BFFF"/>
<polyline points="124.6,70.9 131.3,73.5 138.1,75.0 144.8,71.4 151.5,60.1 158.2,44.4 165.0,34.6 171.7,32.9 178.4,31.2 185.2,27.7 191.9,25.0 198.6,21.7 205.4,19.4 212.1,17.1 218.8,15.6 225.6,14.5 232.3,15.9 239.0,17.8 245.7,20.6 252.5,18.3 259.2,22.4 265.9,34.6 272.7,51.7 279.4,63.2" stroke="#F4A460"/>
<polyline points="124.6,71.0 131.3,73.9 138.1,75.0 144.8,71.2 151.5,60.3 158.2,45.3 165.0,36.5 171.7,35.1 178.4,32.2 185.2,29.1 191.9,26.5 198.6,22.9 205.4,20.5 212.1,18.1 218.8,16.3 225.6,14.7 232.3,16.2 239.0,18.4 245.7,20.6 252.5,18.5 259.2,21.8 265.9,34.1 272.7,51.8 279.4,63.9" stroke="#26C28E"/>
<polyline points="124.6,70.5 131.3,74.0 138.1,75.1 144.8,71.6 151.5,61.3 158.2,47.2 165.0,37.1 171.7,33.9 178.4,31.6 185.2,28.8 191.9,25.6 198.6,22.6 205.4,20.6 212.1,17.8 218.8,15.6 225.6,14.8 232.3,16.2 239.0,18.2 245.7,21.1 252.5,18.7 259.2,21.9 265.9,33.9 272.7,52.5 279.4,63.2" stroke="#80E060"/>
<polyline points="124.6,69.2 131.3,72.3 138.1,73.2 144.8,70.4 151.5,57.6 158.2,40.1 165.0,30.7 171.7,28.4 178.4,26.7 185.2,24.6 191.9,22.4 198.6,18.9 205.4,16.9 212.1,15.3 218.8,14.3 225.6,14.1 232.3,15.0 239.0,17.5 245.7,18.1 252.5,16.2 259.2,19.4 265.9,29.3 272.7,47.0 279.4,61.0" stroke="#FFF000"/>
<polyline points="124.6,70.9 131.3,72.7 138.1,74.5 144.8,71.3 151.5,59.8 158.2,43.0 165.0,33.3 171.7,31.5 178.4,29.7 185.2,26.3 191.9,23.3 198.6,20.1 205.4,17.6 212.1,15.8 218.8,14.9 225.6,13.9 232.3,15.4 239.0,16.6 245.7,18.9 252.5,16.4 259.2,19.7 265.9,32.6 272.7,51.3 279.4,62.4" stroke="#FFD23C"/>
<polyline points="124.6,70.7 131.3,73.4 138.1,75.1 144.8,71.3 151.5,61.5 158.2,46.8 165.0,37.1 171.7,34.8 178.4,32.4 185.2,28.5 191.9,25.9 198.6,22.2 205.4,20.2 212.1,18.0 218.8,16.0 225.6,15.1 232.3,16.0 239.0,18.9 245.7,21.2 252.5,18.6 259.2,21.4 265.9,34.2 272.7,51.7 279.4,63.6" stroke="#9ACFF0"/>
<polyline points="124.6,70.9 131.3,73.5 138.1,74.9 144.8,71.3 151.5,60.3 158.2,45.8 165.0,38.5 171.7,36.1 178.4,33.7 185.2,31.2 191.9,27.6 198.6,24.6 205.4,22.0 212.1,19.6 218.8,17.3 225.6,16.1 232.3,18.4 239.0,21.4 245.7,24.2 252.5,21.5 259.2,24.2 265.9,36.0 272.7,52.8 279.4,64.4" stroke="#B01E1E"/>
<polyline points="124.6,70.4 131.3,72.7 138.1,74.0 144.8,71.4 151.5,60.9 158.2,46.4 165.0,38.4 171.7,36.0 178.4,33.5 185.2,30.6 191.9,27.3 198.6,23.6 205.4,21.5 212.1,19.3 218.8,17.2 225.6,16.5 232.3,18.8 239.0,21.8 245.7,24.9 252.5,22.1 259.2,25.3 265.9,36.1 272.7,53.1 279.4,64.1" stroke="#FF1A1A"/>
<polyline points="124.6,70.0 131.3,72.5 138.1,73.5 144.8,71.0 151.5,61.0 158.2,47.0 165.0,40.0 171.7,38.2 178.4,35.8 185.2,32.6 191.9,29.5 198.6,26.1 205.4,23.5 212.1,20.7 218.8,18.8 225.6,17.5 232.3,19.2 239.0,22.1 245.7,24.9 252.5,22.1 259.2,24.9 265.9,36.0 272.7,53.0 279.4,64.0" stroke="#262626"/>
</g>
<line x1="114.5" y1="70.9" x2="116.5" y2="70.9" stroke="#c4c4c4" stroke-width="0.7"/>
<text x="113.8" y="73.4" font-size="7" text-anchor="end">11,000</text>
<line x1="114.5" y1="56.8" x2="116.5" y2="56.8" stroke="#c4c4c4" stroke-width="0.7"/>
<text x="113.8" y="59.2" font-size="7" text-anchor="end">12,000</text>
<line x1="114.5" y1="42.6" x2="116.5" y2="42.6" stroke="#c4c4c4" stroke-width="0.7"/>
<text x="113.8" y="45.1" font-size="7" text-anchor="end">13,000</text>
<line x1="114.5" y1="28.4" x2="116.5" y2="28.4" stroke="#c4c4c4" stroke-width="0.7"/>
<text x="113.8" y="30.9" font-size="7" text-anchor="end">14,000</text>
<line x1="114.5" y1="14.3" x2="116.5" y2="14.3" stroke="#c4c4c4" stroke-width="0.7"/>
<text x="113.8" y="16.8" font-size="7" text-anchor="end">15,000</text>
<line x1="124.6" y1="79.3" x2="124.6" y2="81.3" stroke="#c4c4c4" stroke-width="0.7"/>
<text transform="translate(126.5,82) rotate(-90)" font-size="7" text-anchor="end">5-7 00</text>
<line x1="151.5" y1="79.3" x2="151.5" y2="81.3" stroke="#c4c4c4" stroke-width="0.7"/>
<text transform="translate(153.4,82) rotate(-90)" font-size="7" text-anchor="end">5-7 04</text>
<line x1="178.4" y1="79.3" x2="178.4" y2="81.3" stroke="#c4c4c4" stroke-width="0.7"/>
<text transform="translate(180.3,82) rotate(-90)" font-size="7" text-anchor="end">5-7 08</text>
<line x1="205.4" y1="79.3" x2="205.4" y2="81.3" stroke="#c4c4c4" stroke-width="0.7"/>
<text transform="translate(207.3,82) rotate(-90)" font-size="7" text-anchor="end">5-7 12</text>
<line x1="232.3" y1="79.3" x2="232.3" y2="81.3" stroke="#c4c4c4" stroke-width="0.7"/>
<text transform="translate(234.2,82) rotate(-90)" font-size="7" text-anchor="end">5-7 16</text>
<line x1="259.2" y1="79.3" x2="259.2" y2="81.3" stroke="#c4c4c4" stroke-width="0.7"/>
<text transform="translate(261.1,82) rotate(-90)" font-size="7" text-anchor="end">5-7 20</text>
<rect x="461.5" y="8.8" width="80" height="90.3" rx="1.5" fill="#fff" fill-opacity="0.85" stroke="#e2e2e2" stroke-width="0.8"/>
<line x1="463.9" y1="13" x2="476" y2="13" stroke="#9932CC" stroke-width="1"/>
<text x="481" y="16.0" font-size="6.1">RNN</text>
<line x1="463.9" y1="21" x2="476" y2="21" stroke="#00BFFF" stroke-width="1"/>
<text x="481" y="24.1" font-size="6.1">Dense</text>
<line x1="463.9" y1="30" x2="476" y2="30" stroke="#F4A460" stroke-width="1"/>
<text x="481" y="32.1" font-size="6.1">LSTM</text>
<line x1="463.9" y1="38" x2="476" y2="38" stroke="#26C28E" stroke-width="1"/>
<text x="481" y="40.2" font-size="6.1">GRU</text>
<line x1="463.9" y1="46" x2="476" y2="46" stroke="#80E060" stroke-width="1"/>
<text x="481" y="48.3" font-size="6.1">LstmSeq</text>
<line x1="463.9" y1="54" x2="476" y2="54" stroke="#FFF000" stroke-width="1"/>
<text x="481" y="56.4" font-size="6.1">GruSeq</text>
<line x1="463.9" y1="62" x2="476" y2="62" stroke="#FFD23C" stroke-width="1"/>
<text x="481" y="64.4" font-size="6.1">LstmSeqAtt</text>
<line x1="463.9" y1="70" x2="476" y2="70" stroke="#9ACFF0" stroke-width="1"/>
<text x="481" y="72.5" font-size="6.1">GruSeqAtt</text>
<line x1="463.9" y1="78" x2="476" y2="78" stroke="#B01E1E" stroke-width="1"/>
<text x="481" y="80.6" font-size="6.1">BLstmSeqAtt</text>
<line x1="463.9" y1="86" x2="476" y2="86" stroke="#FF1A1A" stroke-width="1"/>
<text x="481" y="88.6" font-size="6.1">The proposed method</text>
<line x1="463.9" y1="94" x2="476" y2="94" stroke="#262626" stroke-width="1"/>
<text x="481" y="96.7" font-size="6.1">Ground truth</text>
</svg></body></html>
